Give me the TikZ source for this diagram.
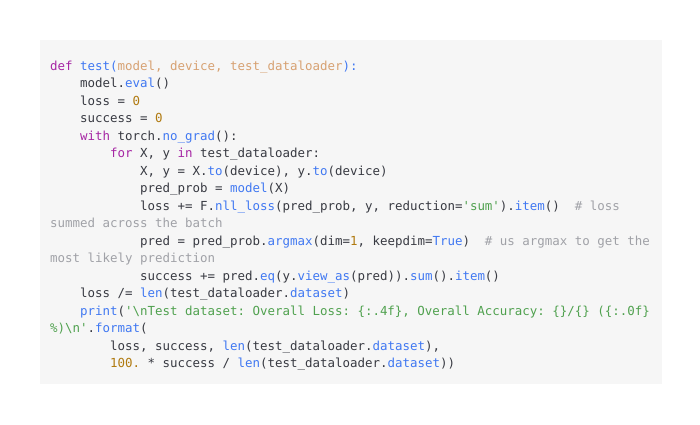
\documentclass[tikz,border=0pt]{standalone}
\usepackage{fontspec}
\setmonofont{DejaVu Sans Mono}
\definecolor{bgc}{HTML}{F6F6F6}
\definecolor{txt}{HTML}{383A42}
\definecolor{kw}{HTML}{A626A4}
\definecolor{fn}{HTML}{4078F2}
\definecolor{par}{HTML}{D7A172}
\definecolor{num}{HTML}{B07A10}
\definecolor{str}{HTML}{50A14F}
\definecolor{cmt}{HTML}{A0A1A7}
\newcommand\K[1]{\textcolor{kw}{#1}}
\newcommand\Fn[1]{\textcolor{fn}{#1}}
\newcommand\Pa[1]{\textcolor{par}{#1}}
\newcommand\Nu[1]{\textcolor{num}{#1}}
\newcommand\St[1]{\textcolor{str}{#1}}
\newcommand\Cm[1]{\textcolor{cmt}{#1}}
\newcommand\q{\char39}
\begin{document}
\begin{tikzpicture}[x=1pt,y=-1pt,
  code/.style={anchor=base west,inner sep=0pt,font=\ttfamily\fontsize{12.45}{14}\selectfont,text=txt}]
\useasboundingbox (0,0) rectangle (700,424);
\fill[bgc] (40,40) rectangle (662,384);
\def\ly#1{\fpeval{70+17.5*(#1-1)}}
\node[code] (l1) at (50,{70+17.5*0}) {\K{def} \Fn{test(}\Pa{model, device, test\_dataloader}\Fn{):}};
\node[code] (l2) at (80,{70+17.5*1}) {model.\Fn{eval}()};
\node[code] (l3) at (80,{70+17.5*2}) {loss = \Nu{0}};
\node[code] (l4) at (80,{70+17.5*3}) {success = \Nu{0}};
\node[code] (l5) at (80,{70+17.5*4}) {\K{with} torch.\Fn{no\_grad}():};
\node[code] (l6) at (110,{70+17.5*5}) {\K{for} X, y \K{in} test\_dataloader:};
\node[code] (l7) at (140,{70+17.5*6}) {X, y = X.\Fn{to}(device), y.\Fn{to}(device)};
\node[code] (l8) at (140,{70+17.5*7}) {pred\_prob = \Fn{model}(X)};
\node[code] (l9) at (140,{70+17.5*8}) {loss += F.\Fn{nll\_loss}(pred\_prob, y, reduction=\St{\q sum\q}).\Fn{item}()\ \ \Cm{\# loss}};
\node[code] (l10) at (50,{70+17.5*9}) {\Cm{summed across the batch}};
\node[code] (l11) at (140,{70+17.5*10}) {pred = pred\_prob.\Fn{argmax}(dim=\Nu{1}, keepdim=\Fn{True})\ \ \Cm{\# us argmax to get the}};
\node[code] (l12) at (50,{70+17.5*11}) {\Cm{most likely prediction}};
\node[code] (l13) at (140,{70+17.5*12}) {success += pred.\Fn{eq}(y.\Fn{view\_as}(pred)).\Fn{sum}().\Fn{item}()};
\node[code] (l14) at (80,{70+17.5*13}) {loss /= \Fn{len}(test\_dataloader.\Fn{dataset})};
\node[code] (l15) at (80,{70+17.5*14}) {\Fn{print}(\St{\q\textbackslash nTest dataset: Overall Loss: \{:.4f\}, Overall Accuracy: \{\}/\{\} (\{:.0f\}}};
\node[code] (l16) at (50,{70+17.5*15}) {\St{\%)\textbackslash n\q}.\Fn{format}(};
\node[code] (l17) at (110,{70+17.5*16}) {loss, success, \Fn{len}(test\_dataloader.\Fn{dataset}),};
\node[code] (l18) at (110,{70+17.5*17}) {\Nu{100.} * success / \Fn{len}(test\_dataloader.\Fn{dataset}))};
\end{tikzpicture}
\end{document}
